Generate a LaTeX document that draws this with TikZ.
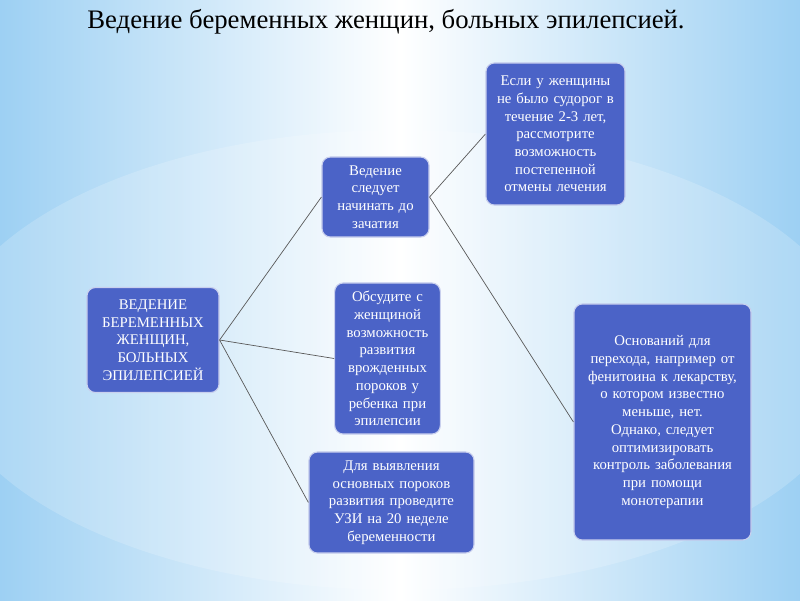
\documentclass[tikz,border=0pt]{standalone}
\usepackage{fontspec}
\setmainfont{Liberation Serif}
\usetikzlibrary{positioning}
\definecolor{boxblue}{HTML}{4B63C7}
\definecolor{skyblue}{HTML}{9DD0F3}

\begin{document}
\begin{tikzpicture}[x=0.025cm,y=-0.025cm,
  box/.style={draw=white!70!boxblue,line width=0.8pt,fill=boxblue,rounded corners=6pt,text=white,align=center,font=\fontsize{10.5}{12.6}\selectfont,inner sep=2pt},
  link/.style={draw=black!65,line width=0.5pt}]
  % background
  \useasboundingbox (0,0) rectangle (800,600);
  \shade[left color=skyblue,right color=skyblue,middle color=white] (0,0) rectangle (800,600);
  \begin{scope}
    \clip (0,0) rectangle (800,600);
    \fill[white,opacity=0.18] (400,360) ellipse [x radius=460,y radius=230];
  \end{scope}

  \node (title) at (386,22) {\fontsize{19}{22}\selectfont Ведение беременных женщин, больных эпилепсией.};

  \node[box,minimum width=3.3cm,minimum height=2.625cm,text width=3.0cm] (root) at (153,340) {ВЕДЕНИЕ\\ БЕРЕМЕННЫХ\\ ЖЕНЩИН,\\ БОЛЬНЫХ\\ ЭПИЛЕПСИЕЙ};
  \node[box,minimum width=2.675cm,minimum height=2.0cm,text width=2.5cm] (start) at (375.5,197) {Ведение\\ следует\\ начинать до\\ зачатия};
  \node[box,minimum width=3.475cm,minimum height=3.55cm,text width=3.3cm] (stop) at (555.5,134) {Если у женщины\\ не было судорог в\\ течение 2-3 лет,\\ рассмотрите\\ возможность\\ постепенной\\ отмены лечения};
  \node[box,minimum width=2.625cm,minimum height=3.775cm,text width=2.5cm] (talk) at (387.5,358.5) {Обсудите с\\ женщиной\\ возможность\\ развития\\ врожденных\\ пороков у\\ ребенка при\\ эпилепсии};
  \node[box,minimum width=4.125cm,minimum height=2.525cm,text width=3.9cm] (scan) at (391.5,502.5) {Для выявления\\ основных пороков\\ развития проведите\\ УЗИ на 20 неделе\\ беременности};
  \node[box,minimum width=4.425cm,minimum height=5.9cm,text width=4.2cm] (mono) at (662.5,422) {Оснований для\\ перехода, например от\\ фенитоина к лекарству,\\ о котором известно\\ меньше, нет.\hspace*{2em}\\ Однако, следует\\ оптимизировать\\ контроль заболевания\\ при помощи\\ монотерапии};

  \draw[link] (root.east) -- (start.west);
  \draw[link] (root.east) -- (talk.west);
  \draw[link] (root.east) -- (scan.west);
  \draw[link] (start.east) -- (stop.west);
  \draw[link] (start.east) -- (mono.west);
\end{tikzpicture}
\end{document}
